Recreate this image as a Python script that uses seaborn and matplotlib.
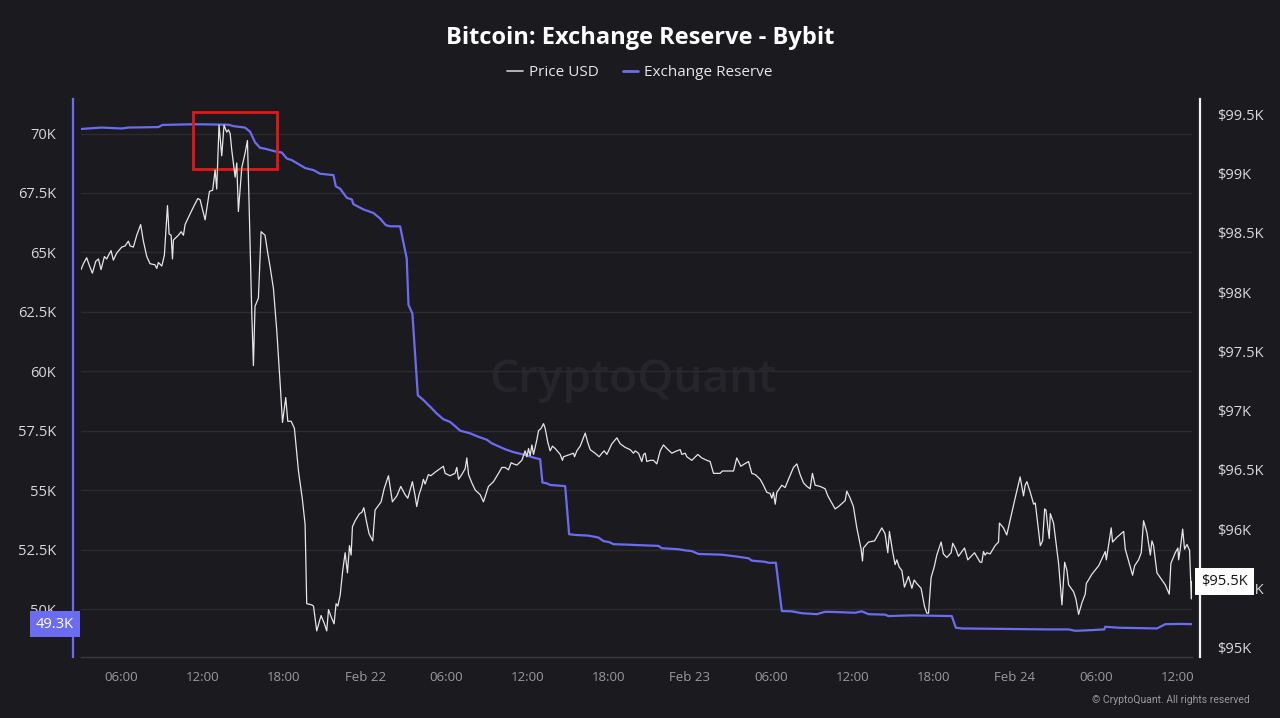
import numpy as np
import pandas as pd
import matplotlib
matplotlib.use("Agg")
import matplotlib.pyplot as plt
import matplotlib.dates as mdates
from matplotlib.ticker import FuncFormatter, FixedLocator
from matplotlib.patches import Rectangle
from matplotlib.lines import Line2D
from matplotlib.transforms import blended_transform_factory
import seaborn as sns

# ---------------- data ----------------
BASE = pd.Timestamp("2025-02-21 00:00")

# Exchange reserve (BTC, thousands) - hours since Feb 21 00:00
reserve_hours = [3.0, 4.53, 6.01, 6.5, 8.72, 9.02, 11.43, 13.9, 14.26, 15.12,
                 15.5, 15.86, 16.23, 16.6, 17.35, 17.84, 18.21, 18.58, 19.56, 20.18,
                 20.67, 21.66, 21.83, 22.15, 22.64, 23.01, 23.13, 23.87, 24.61, 25.1,
                 25.52, 25.84, 26.58, 27.07, 27.2, 27.49, 27.89, 28.3, 28.92, 29.29,
                 29.78, 30.27, 30.65, 31.02, 31.76, 32.25, 32.99, 33.36, 34.34, 34.96,
                 35.95, 36.44, 36.93, 37.1, 37.42, 37.67, 38.78, 39.07, 39.52, 40.5,
                 41.24, 41.61, 42.03, 42.35, 43.46, 44.69, 45.67, 45.92, 47.15, 47.65,
                 48.14, 48.63, 50.36, 51.34, 52.33, 52.57, 53.56, 53.8, 54.35, 54.79,
                 55.53, 56.27, 57.37, 57.99, 58.73, 60.21, 60.7, 61.19, 62.42, 62.67,
                 64.39, 67.35, 67.65, 68.09, 72.77, 74.26, 75.98, 76.47, 77.71, 78.62,
                 78.69, 79.68, 82.51, 83.13, 84.36, 85.1]
reserve_k = [70.19, 70.25, 70.21, 70.25, 70.27, 70.36, 70.39, 70.37, 70.31, 70.25,
             70.07, 69.63, 69.40, 69.36, 69.25, 69.20, 68.95, 68.88, 68.55, 68.46,
             68.31, 68.25, 67.78, 67.68, 67.30, 67.23, 67.03, 66.81, 66.66, 66.43,
             66.15, 66.10, 66.10, 64.75, 62.80, 62.43, 59.00, 58.80, 58.45, 58.23,
             57.99, 57.88, 57.70, 57.51, 57.40, 57.28, 57.13, 56.98, 56.73, 56.61,
             56.47, 56.38, 56.31, 55.33, 55.30, 55.23, 55.18, 53.16, 53.13, 53.10,
             53.02, 52.87, 52.83, 52.74, 52.72, 52.69, 52.67, 52.57, 52.53, 52.48,
             52.45, 52.33, 52.30, 52.23, 52.15, 52.05, 52.00, 51.96, 51.96, 49.93,
             49.92, 49.84, 49.80, 49.90, 49.89, 49.86, 49.92, 49.80, 49.78, 49.72,
             49.75, 49.72, 49.23, 49.20, 49.17, 49.16, 49.16, 49.10, 49.13, 49.16,
             49.27, 49.23, 49.20, 49.38, 49.39, 49.38]

# Price USD (thousands) - hours since Feb 21 00:00
price_hours = [
    3.0, 3.18, 3.42, 3.60, 3.84, 4.09, 4.29, 4.48, 4.73, 4.90,
    5.03, 5.22, 5.39, 5.64, 6.01, 6.26, 6.50, 6.63, 6.87, 7.12,
    7.41, 7.61, 7.86, 8.10, 8.47, 8.60, 8.72, 8.97, 9.16, 9.39,
    9.51, 9.66, 9.76, 9.83, 10.2, 10.4, 10.57, 10.69, 11.06, 11.36,
    11.63, 11.80, 12.17, 12.49, 12.73, 12.91, 13.03, 13.20, 13.40, 13.57,
    13.77, 13.89, 14.02, 14.14, 14.39, 14.51, 14.63, 14.88, 15.12, 15.30,
    15.42, 15.62, 15.74, 15.86, 16.11, 16.31, 16.60,
    16.80, 16.98, 17.22, 17.47, 17.71, 17.89, 18.13, 18.28, 18.53, 18.77,
    19.07, 19.36, 19.56, 19.68, 20.05, 20.18, 20.42, 20.74, 20.99, 21.16,
    21.29, 21.48, 21.70, 21.85, 21.98, 22.15, 22.34, 22.52, 22.69, 22.84,
    22.96, 23.06, 23.26, 23.58, 23.75, 23.90, 24.12, 24.29, 24.56, 24.73,
    25.18, 25.40, 25.72, 26.01, 26.34, 26.63, 26.95, 27.15, 27.49, 27.69,
    27.81, 27.98, 28.18, 28.30, 28.43, 28.67, 28.85, 29.17, 29.54, 29.78,
    29.91, 30.27, 30.64,
    30.77, 30.90, 31.14, 31.39, 31.51, 31.64, 31.88, 32.13, 32.50, 32.74,
    33.11, 33.48, 33.85, 34.10, 34.34, 34.59, 34.79, 34.96, 35.21, 35.58,
    35.82, 35.95, 36.07, 36.19, 36.32, 36.44, 36.68, 36.81, 37.00, 37.18,
    37.30, 37.50, 37.67, 37.84, 38.04, 38.41, 38.58, 38.65, 38.90, 39.15,
    39.39, 39.47, 39.64, 39.89, 40.26, 40.45, 40.63, 40.99, 41.29, 41.49,
    41.66, 41.86, 42.23, 42.60, 42.84, 43.21, 43.58, 43.83, 43.95, 44.20,
    44.44, 44.57, 44.69,
    44.81, 45.06, 45.31, 45.55, 45.80, 46.04, 46.29, 46.66, 47.03, 47.28,
    47.40, 47.65, 47.77, 48.14, 48.58, 48.88, 49.25, 49.49, 49.74, 50.23,
    50.40, 51.22, 51.46, 51.76, 52.03, 52.33, 52.57, 52.82, 53.19, 53.43,
    53.68, 53.93, 54.05, 54.17, 54.30, 54.42, 54.79, 55.03, 55.28, 55.65,
    55.90, 56.14, 56.39, 56.64, 56.88, 57.05, 57.25, 57.62, 57.99, 58.19,
    58.48, 58.73,
    58.98, 59.47, 59.59, 59.84, 60.08, 60.33, 60.65, 60.75, 60.82, 61.19,
    61.64, 61.93, 62.18, 62.42, 62.62, 62.74, 62.99, 63.16, 63.29, 63.46,
    63.66, 63.85, 64.15, 64.40, 64.57, 64.76, 65.08, 65.33, 65.50, 65.63,
    65.82, 66.07, 66.24, 66.56, 66.73, 66.98, 67.30, 67.42, 67.65, 67.84,
    68.29, 68.53, 69.03, 69.44, 69.57, 69.69, 69.81, 69.94, 70.18, 70.55,
    70.80, 70.87, 71.17, 71.41, 71.71, 72.03, 72.40, 72.65, 72.77,
    72.90, 73.15, 73.40, 73.52, 73.89, 74.06, 74.21, 74.31, 74.45, 74.55,
    74.63, 74.87, 75.24, 75.49, 75.69, 75.86, 75.98, 76.35, 76.52, 76.72,
    76.97, 77.21, 77.29, 77.71, 78.20, 78.57, 78.69, 78.77, 78.94, 79.13,
    79.23, 79.55, 80.05, 80.17, 80.54, 80.71, 80.86, 81.15, 81.35, 81.52,
    81.77, 82.02, 82.14, 82.26, 82.51, 83.12, 83.42, 83.54, 83.86, 84.06,
    84.11, 84.23, 84.41, 84.55, 84.73, 84.92, 85.05, 85.10]
price_k = [
    98.19, 98.24, 98.29, 98.23, 98.16, 98.26, 98.28, 98.19, 98.30, 98.28,
    98.31, 98.35, 98.27, 98.33, 98.38, 98.39, 98.43, 98.39, 98.38, 98.48,
    98.57, 98.43, 98.30, 98.24, 98.23, 98.20, 98.25, 98.22, 98.31, 98.73,
    98.49, 98.48, 98.28, 98.44, 98.48, 98.51, 98.48, 98.57, 98.66, 98.73,
    98.79, 98.78, 98.61, 98.85, 98.86, 99.03, 98.87, 99.41, 99.15, 99.41,
    99.35, 99.37, 99.34, 99.20, 98.97, 99.09, 98.68, 99.05, 99.17, 99.28,
    98.75, 97.82, 97.38, 97.88, 97.95, 98.51, 98.48,
    98.33, 98.21, 98.03, 97.67, 97.24, 96.90, 97.11, 96.91, 96.91, 96.85,
    96.49, 96.25, 96.04, 95.37, 95.36, 95.35, 95.14, 95.27, 95.20, 95.14,
    95.32, 95.26, 95.20, 95.37, 95.35, 95.44, 95.65, 95.80, 95.63, 95.86,
    95.78, 96.02, 96.07, 96.13, 96.14, 96.18, 96.05, 95.96, 95.90, 96.16,
    96.23, 96.34, 96.45, 96.23, 96.28, 96.36, 96.29, 96.26, 96.40, 96.28,
    96.19, 96.29, 96.36, 96.42, 96.38, 96.46, 96.45, 96.48, 96.51, 96.53,
    96.47, 96.45, 96.47,
    96.52, 96.42, 96.46, 96.51, 96.60, 96.46, 96.39, 96.33, 96.29, 96.23,
    96.36, 96.40, 96.47, 96.52, 96.52, 96.50, 96.56, 96.55, 96.54, 96.58,
    96.66, 96.61, 96.68, 96.62, 96.71, 96.63, 96.75, 96.83, 96.85, 96.89,
    96.85, 96.73, 96.66, 96.70, 96.68, 96.63, 96.58, 96.61, 96.62, 96.63,
    96.64, 96.61, 96.66, 96.70, 96.81, 96.73, 96.67, 96.64, 96.61, 96.64,
    96.66, 96.63, 96.72, 96.77, 96.72, 96.69, 96.67, 96.64, 96.66, 96.64,
    96.57, 96.63, 96.64,
    96.57, 96.58, 96.58, 96.55, 96.66, 96.71, 96.68, 96.64, 96.66, 96.67,
    96.63, 96.64, 96.61, 96.58, 96.63, 96.60, 96.58, 96.57, 96.47, 96.47,
    96.49, 96.49, 96.60, 96.53, 96.55, 96.57, 96.47, 96.46, 96.42, 96.37,
    96.31, 96.30, 96.26, 96.31, 96.21, 96.31, 96.37, 96.35, 96.42, 96.52,
    96.55, 96.46, 96.39, 96.36, 96.34, 96.47, 96.37, 96.36, 96.34, 96.28,
    96.22, 96.17,
    96.19, 96.24, 96.32, 96.26, 96.19, 96.01, 95.83, 95.73, 95.84, 95.89,
    95.90, 95.96, 96.01, 95.96, 95.80, 95.98, 95.80, 95.70, 95.74, 95.68,
    95.65, 95.51, 95.60, 95.50, 95.57, 95.54, 95.50, 95.35, 95.29, 95.29,
    95.59, 95.69, 95.78, 95.89, 95.79, 95.76, 95.80, 95.88, 95.83, 95.77,
    95.84, 95.74, 95.80, 95.72, 95.72, 95.81, 95.78, 95.80, 95.79, 95.86,
    95.89, 96.05, 96.01, 95.95, 96.10, 96.26, 96.44, 96.28, 96.37,
    96.40, 96.31, 96.21, 96.22, 95.86, 95.90, 96.17, 96.16, 96.01, 95.92,
    96.13, 96.05, 95.71, 95.36, 95.72, 95.65, 95.53, 95.47, 95.41, 95.28,
    95.38, 95.45, 95.54, 95.62, 95.69, 95.78, 95.81, 95.74, 95.87, 96.01,
    95.89, 95.93, 95.98, 95.83, 95.68, 95.61, 95.69, 95.74, 95.80, 96.07,
    95.97, 95.78, 95.90, 95.86, 95.63, 95.53, 95.45, 95.71, 95.80, 95.84,
    95.74, 95.83, 96.00, 95.83, 95.87, 95.82, 95.41, 95.56]

left_ticks = [50, 52.5, 55, 57.5, 60, 62.5, 65, 67.5, 70]
right_ticks = [95, 95.5, 96, 96.5, 97, 97.5, 98, 98.5, 99, 99.5]
x_tick_hours = [6, 12, 18, 24, 30, 36, 42, 48, 54, 60, 66, 72, 78, 84]
highlight_hours = (11.31, 17.49)
highlight_reserve = (68.51, 70.91)

TITLE = "Bitcoin: Exchange Reserve - Bybit"
LEGEND_LABELS = ["Price USD", "Exchange Reserve"]

# ---------------- style ----------------
BG = "#1b1b1f"
GRID = "#2a2a30"
BLUE = "#6c6cf2"
WHITE_LINE = "#e6e6e6"
TICK_Y = "#d8d8d8"
TICK_X = "#9a9a9a"

sns.set_theme(style="dark", rc={
    "figure.facecolor": BG, "axes.facecolor": BG, "savefig.facecolor": BG,
    "axes.edgecolor": GRID, "grid.color": GRID, "text.color": "white",
})
plt.rcParams["font.family"] = ["Open Sans", "DejaVu Sans"]

reserve_df = pd.DataFrame({
    "time": BASE + pd.to_timedelta(reserve_hours, unit="h"),
    "reserve": reserve_k})
price_df = pd.DataFrame({
    "time": BASE + pd.to_timedelta(price_hours, unit="h"),
    "price": price_k})
assert len(price_hours) == len(price_k)
assert len(reserve_hours) == len(reserve_k)

fig = plt.figure(figsize=(12.8, 7.18), dpi=100)
ax = fig.add_axes([81 / 1280, 1 - 657 / 718, (1192 - 81) / 1280, (657 - 99) / 718])
ax2 = ax.twinx()

# watermark
ax.text(0.497, 0.495, "CryptoQuant", transform=ax.transAxes, ha="center", va="center",
        fontsize=33, color="#25252b", fontweight="semibold", zorder=0)

sns.lineplot(data=reserve_df, x="time", y="reserve", ax=ax, color=BLUE, linewidth=1.6,
             estimator=None, sort=False, zorder=3)
sns.lineplot(data=price_df, x="time", y="price", ax=ax2, color=WHITE_LINE, linewidth=0.9,
             estimator=None, sort=False, zorder=3)

ax.set_xlim(reserve_df["time"].iloc[0], reserve_df["time"].iloc[-1])
ax.set_ylim(48.0, 71.45)
ax2.set_ylim(94.92, 99.63)

ax.set_xlabel("")
ax.set_ylabel("")
ax2.set_ylabel("")

# grid
ax.yaxis.set_major_locator(FixedLocator(left_ticks))
ax.grid(axis="y", color=GRID, linewidth=1)
ax.grid(axis="x", visible=False)
ax2.grid(False)

ax.yaxis.set_major_formatter(FuncFormatter(lambda v, p: f"{v:g}K"))
ax2.yaxis.set_major_locator(FixedLocator(right_ticks))
ax2.yaxis.set_major_formatter(FuncFormatter(lambda v, p: f"${v:g}K"))

xt = [BASE + pd.Timedelta(hours=h) for h in x_tick_hours]
ax.xaxis.set_major_locator(FixedLocator(mdates.date2num(xt)))


def xfmt(v, p):
    d = mdates.num2date(v)
    if d.hour == 0 and d.minute == 0:
        return d.strftime("%b %d").replace(" 0", " ")
    return d.strftime("%H:%M")


ax.xaxis.set_major_formatter(FuncFormatter(xfmt))

ax.tick_params(axis="x", colors=TICK_X, labelsize=9.5, length=4, width=1, pad=6,
               color="#3a3a42")
ax.tick_params(axis="y", colors=TICK_Y, labelsize=10.5, length=0, pad=12)
ax2.tick_params(axis="y", colors=TICK_Y, labelsize=10.5, length=0, pad=12)

# spines
for a in (ax, ax2):
    a.spines["top"].set_visible(False)
ax.spines["right"].set_visible(False)
ax2.spines["left"].set_visible(False)
ax2.spines["bottom"].set_visible(False)
ax.spines["left"].set_color(BLUE)
ax.spines["left"].set_linewidth(1.6)
ax.spines["left"].set_position(("outward", 6))
ax2.spines["right"].set_color("#f0f0f0")
ax2.spines["right"].set_linewidth(1.6)
ax2.spines["right"].set_position(("outward", 6))
ax.spines["bottom"].set_color("#3a3a42")
ax.spines["bottom"].set_linewidth(1)

# highlight box
x0 = mdates.date2num(BASE + pd.Timedelta(hours=highlight_hours[0]))
x1 = mdates.date2num(BASE + pd.Timedelta(hours=highlight_hours[1]))
ax.add_patch(Rectangle((x0, highlight_reserve[0]), x1 - x0,
                       highlight_reserve[1] - highlight_reserve[0],
                       fill=False, edgecolor="#e8161b", linewidth=2, zorder=5))

# last value tags
last_res = reserve_k[-1]
last_price = price_k[-1]
tr_l = blended_transform_factory(ax.transAxes, ax.transData)
ax.text(-0.0062, last_res, f"{np.floor(last_res * 10) / 10:.1f}K", transform=tr_l,
        ha="right", va="center", fontsize=10.5, color="white", zorder=10, clip_on=False,
        bbox=dict(boxstyle="square,pad=0.4", fc=BLUE, ec="none"))
tr_r = blended_transform_factory(ax2.transAxes, ax2.transData)
ax2.text(1.0085, last_price, f"${np.floor(last_price * 10) / 10:.1f}K", transform=tr_r,
         ha="left", va="center", fontsize=10.5, color="#111111", zorder=10, clip_on=False,
         bbox=dict(boxstyle="square,pad=0.42", fc="white", ec="none"))

# title and legend
fig.text(0.5, 1 - 38 / 718, TITLE, ha="center", va="center", fontsize=17,
         fontweight="bold", color="white")
handles = [Line2D([], [], color="#cfcfcf", linewidth=1.2),
           Line2D([], [], color=BLUE, linewidth=2)]
leg = fig.legend(handles, LEGEND_LABELS, loc="center", bbox_to_anchor=(0.5, 1 - 73 / 718),
                 ncol=2, frameon=False, fontsize=11, handlelength=1.0, handletextpad=0.4,
                 columnspacing=1.6)
for t in leg.get_texts():
    t.set_color("#e8e8e8")

fig.text(1250 / 1280, 1 - 700 / 718, "© CryptoQuant. All rights reserved", ha="right",
         va="center", fontsize=7.5, color="#9a9a9a", family=["Roboto", "DejaVu Sans"])

fig.savefig("out.png", dpi=100, facecolor=BG)
